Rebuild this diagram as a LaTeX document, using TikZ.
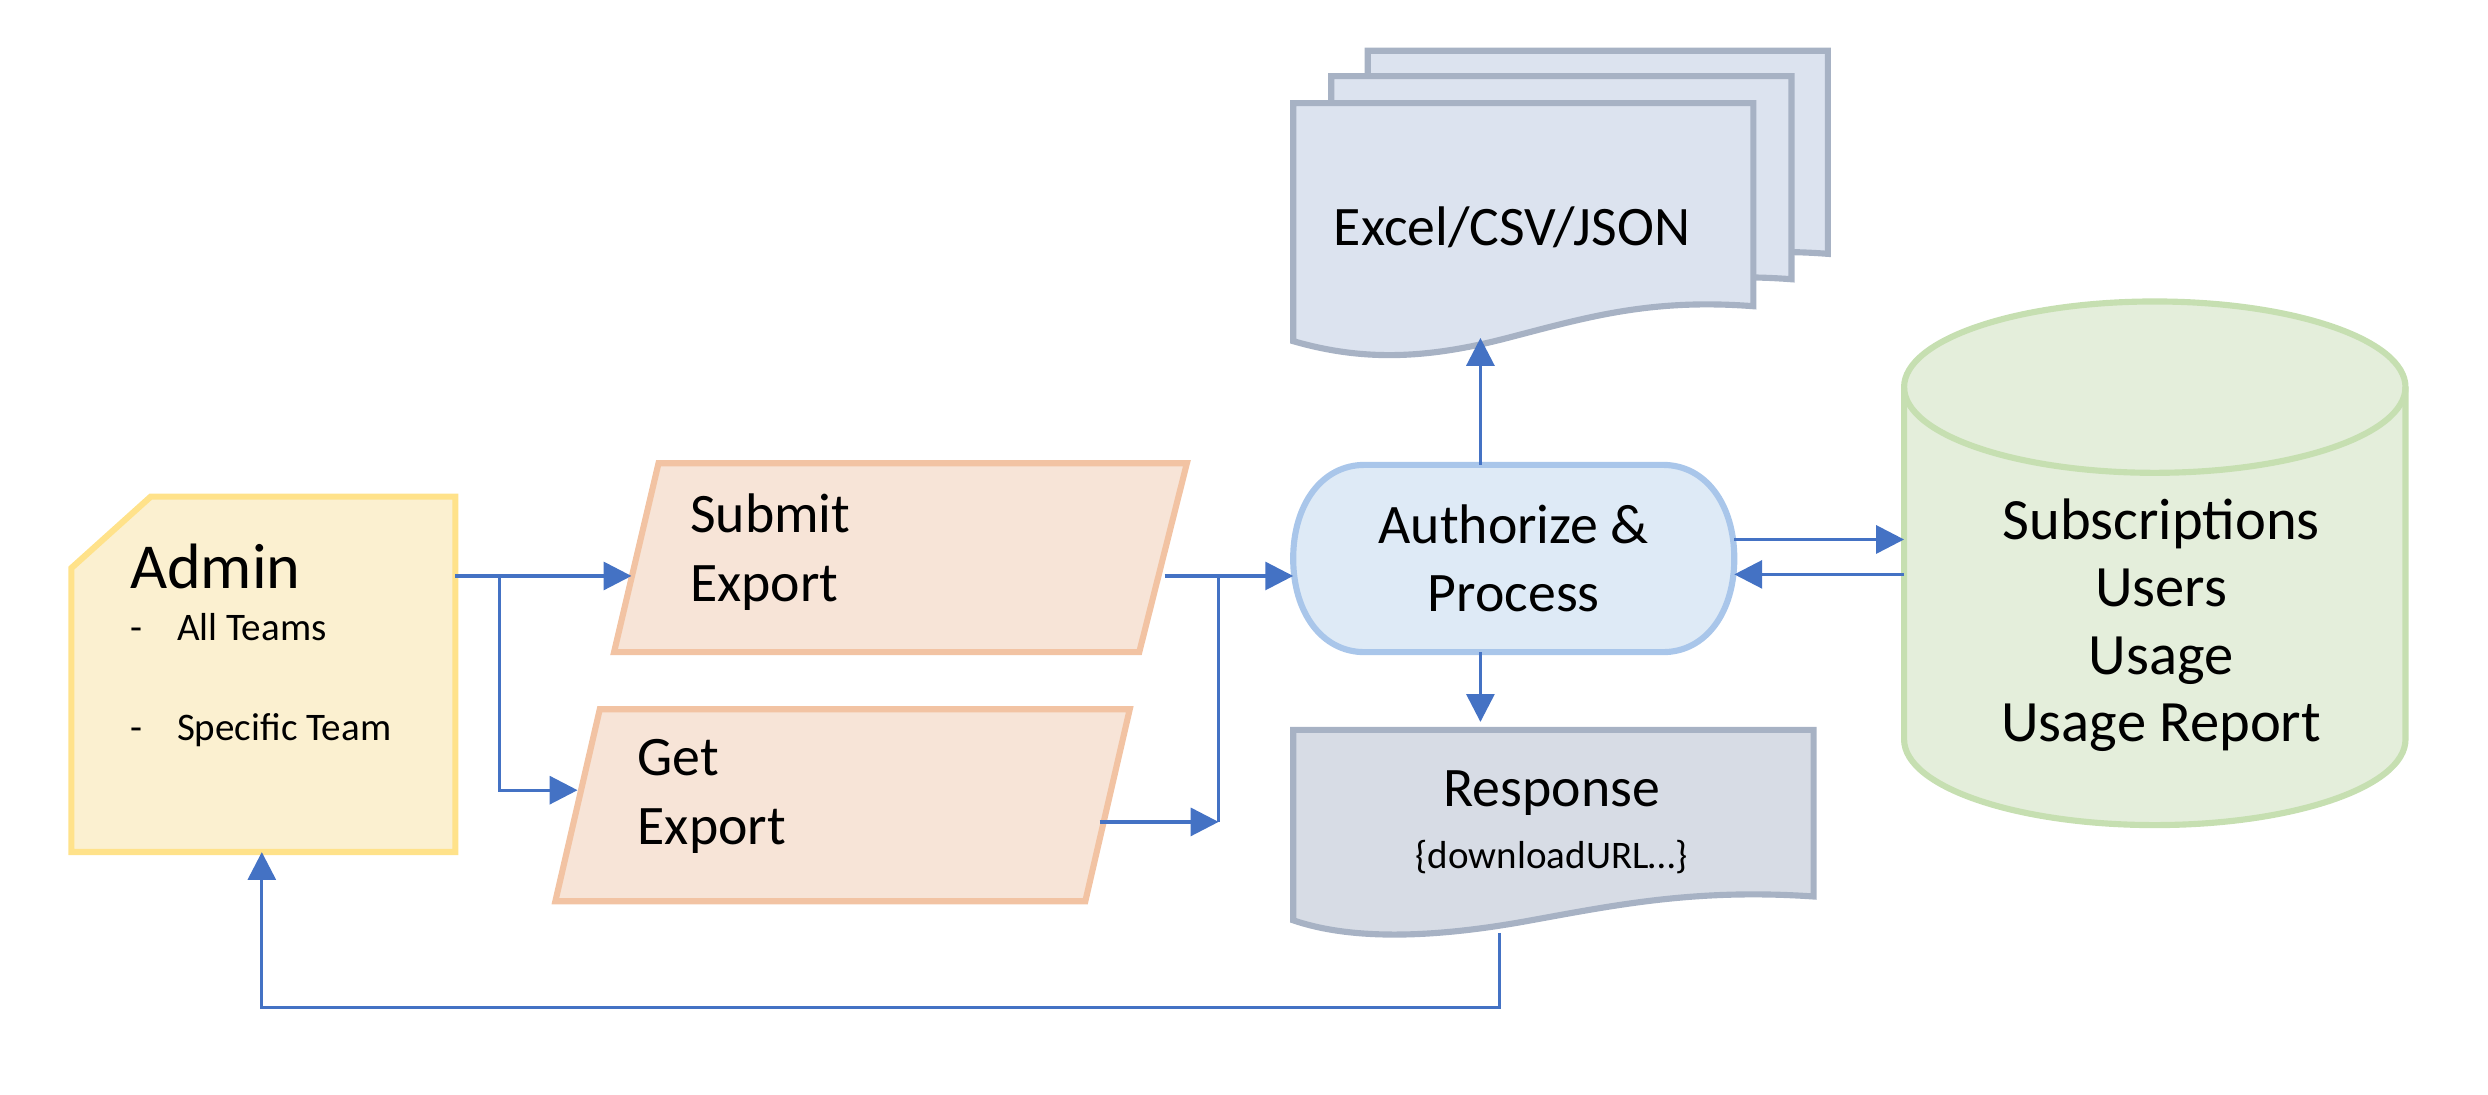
\documentclass[tikz,border=0pt]{standalone}
\usepackage{fontspec}
\setmainfont{Carlito}
\usetikzlibrary{arrows.meta}
\definecolor{lnk}{HTML}{4472C4}
\definecolor{admfill}{HTML}{FBF0D0}\definecolor{admdraw}{HTML}{FFE28A}
\definecolor{expfill}{HTML}{F7E4D7}\definecolor{expdraw}{HTML}{F2C3A3}
\definecolor{authfill}{HTML}{DEEAF6}\definecolor{authdraw}{HTML}{A9C6EA}
\definecolor{docfill}{HTML}{DCE3EF}\definecolor{docdraw}{HTML}{A7B2C4}
\definecolor{respfill}{HTML}{D7DCE5}
\definecolor{dbfill}{HTML}{E4EEDB}\definecolor{dbdraw}{HTML}{C6DFB1}
\begin{document}
\begin{tikzpicture}[x=0.1mm,y=-0.1mm,line width=1.1pt,
link/.style={draw=lnk,line width=0.6pt,-{Triangle[length=5pt,width=5pt]}},
txt/.style={inner sep=0pt,font=\fontsize{10}{12.3}\selectfont,align=center},
small/.style={inner sep=0pt,font=\fontsize{7}{8}\selectfont,anchor=west}]
\useasboundingbox (0,0) rectangle (1568,690);
% admin card
\draw[draw=admdraw,fill=admfill] (45,358) -- (95,313) -- (287,313) -- (287,537) -- (45,537) -- cycle;
\node[txt,anchor=west,font=\fontsize{11.5}{13}\selectfont] (admin) at (80,357) {Admin};
\node[small] (all) at (80,395) {-\hspace{0.9em}All Teams};
\node[small] (spec) at (80,460) {-\hspace{0.9em}Specific Team};
\coordinate (adminE) at (287,363);
\coordinate (adminS) at (165,537);
% export requests
\draw[draw=expdraw,fill=expfill] (415,292) -- (748,292) -- (718,411) -- (387,411) -- cycle;
\node[txt,align=left,anchor=west] (submit) at (433,348) {Submit\\Export};
\draw[draw=expdraw,fill=expfill] (378,447) -- (712,447) -- (684,568) -- (350,568) -- cycle;
\node[txt,align=left,anchor=west] (get) at (400,502) {Get\\Export};
\coordinate (submitW) at (398,363); \coordinate (submitE) at (734,363);
\coordinate (getW) at (364,498); \coordinate (getE) at (693,518);
\coordinate (join) at (768,518);
% authorize
\draw[draw=authdraw,fill=authfill] (860,293) -- (1048,293) .. controls (1075,293) and (1093,318) .. (1093,352)
  .. controls (1093,386) and (1075,411) .. (1048,411) -- (860,411) .. controls (833,411) and (815,386) .. (815,352)
  .. controls (815,318) and (833,293) .. cycle;
\node[txt] (auth) at (954,352) {Authorize \&\\Process};
\coordinate (authW) at (815,363); \coordinate (authN) at (933,293); \coordinate (authS) at (933,411);
% output documents
\foreach \dx/\dy in {47/-33,24/-17,0/0}
  \draw[draw=docdraw,fill=docfill,shift={(\dx,\dy)}] (815,215) -- (815,65) -- (1105,65) -- (1105,193)
    .. controls (1040,188) and (1000,200) .. (950,213) .. controls (900,226) and (860,228) .. cycle;
\node[txt] (excel) at (953,143) {Excel/CSV/JSON};
\coordinate (excelS) at (933,213);
% response
\draw[draw=docdraw,fill=respfill] (815,580) -- (815,460) -- (1143,460) -- (1143,565)
  .. controls (1070,560) and (1020,570) .. (965,580) .. controls (900,592) and (850,592) .. cycle;
\node[txt] (resp) at (978,500) {Response};
\node[small,anchor=center] (url) at (978,540) {\{downloadURL…\}};
\coordinate (respN) at (933,455); \coordinate (respS) at (945,588);
% database
\draw[draw=dbdraw,fill=dbfill] (1200,244) -- (1200,466) arc[x radius=158,y radius=54,start angle=180,end angle=0]
  -- (1516,244) arc[x radius=158,y radius=54,start angle=0,end angle=-180] -- cycle;
\draw[draw=dbdraw] (1200,244) arc[x radius=158,y radius=54,start angle=180,end angle=0];
\node[txt,font=\fontsize{10.5}{12.1}\selectfont] (db) at (1362,394) {Subscriptions\\Users\\Usage\\Usage Report};
\coordinate (dbA) at (1200,340); \coordinate (dbB) at (1200,362);
\coordinate (authA) at (1093,340); \coordinate (authB) at (1093,362);
% connectors
\draw[link] (adminE) -- (submitW);
\draw[link] (adminE -| 315,0) |- (getW);
\draw[link] (submitE) -- (authW);
\draw[draw=lnk,line width=0.6pt] (authW -| join) -- (join);
\draw[link] (getE) -- (join);
\draw[link] (authN) -- (excelS);
\draw[link] (authS) -- (respN);
\draw[link] (authA) -- (dbA);
\draw[link] (dbB) -- (authB);
\draw[link] (respS) -- (respS |- 0,635) -| (adminS);
\end{tikzpicture}
\end{document}
